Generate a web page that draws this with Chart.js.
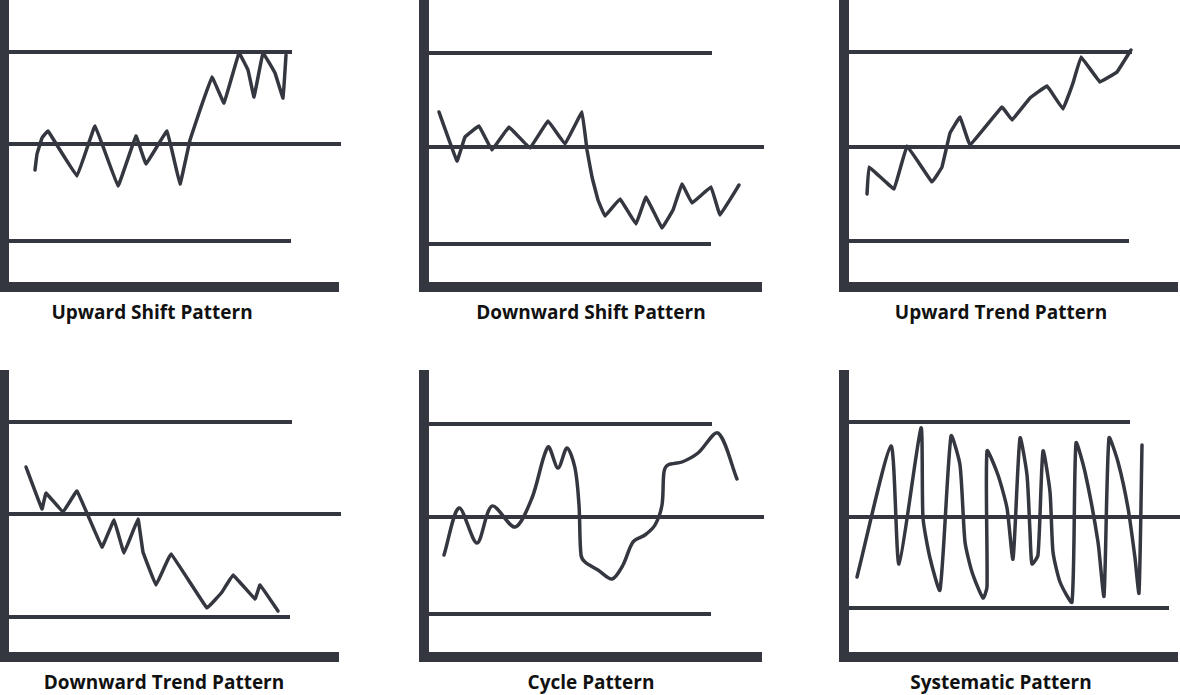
<!DOCTYPE html>
<html>
<head>
<meta charset="utf-8">
<script src="https://cdn.jsdelivr.net/npm/chart.js@4.4.1/dist/chart.umd.min.js"></script>
<style>
  body { margin: 0; background: #fff; }
  #page { position: relative; width: 1180px; height: 695px; overflow: hidden; }
  canvas { position: absolute; }
  .title {
    position: absolute; width: 300px; text-align: center;
    font: 700 19px "Open Sans", "Noto Sans", sans-serif; color: #111;
    line-height: 22px;
  }
</style>
</head>
<body>
<div id="page"></div>
<script>
// pattern names
var titles = ['Upward Shift Pattern', 'Downward Shift Pattern', 'Upward Trend Pattern',
              'Downward Trend Pattern', 'Cycle Pattern', 'Systematic Pattern'];

// control limits for each panel (value units) and how far each limit line runs along x
var uclValues = [230, 229, 230, 230, 228, 230];
var clValues  = [138, 135, 135, 138, 135, 135];
var lclValues = [41, 38, 41, 35, 38, 44];
var uclEnd = [283, 283, 283, 283, 283, 281];
var clEnd  = [332, 335, 331, 332, 335, 331];
var lclEnd = [282, 282, 280, 281, 282, 320];

var upShiftX = [26, 28, 33, 39, 68, 86, 109, 127, 137, 158, 171, 181, 191, 203, 215, 230, 239, 245, 254, 266, 274, 277];
var upShiftY = [112, 128, 144, 151, 106, 156, 96, 146, 118, 151, 98, 142, 172, 205, 179, 229, 212, 185, 229, 209, 184, 227];

var downShiftX = [10, 28, 36, 50, 63, 80, 101, 119, 136, 153, 158, 163, 169, 176, 191, 207, 217, 233, 244, 253, 263, 282, 291, 310];
var downShiftY = [170, 121, 145, 156, 132, 155, 134, 161, 138, 170, 132, 105, 82, 66, 83, 58, 85, 54, 72, 98, 79, 95, 67, 97];

var upTrendX = [18, 20, 45, 58, 83, 93, 101, 111, 121, 153, 163, 181, 198, 214, 224, 232, 251, 268, 282];
var upTrendY = [88, 115, 93, 136, 100, 115, 149, 165, 137, 175, 162, 184, 196, 173, 199, 225, 200, 210, 232];

var downTrendX = [17, 33, 37, 54, 68, 93, 105, 115, 129, 134, 147, 162, 198, 213, 224, 246, 251, 269];
var downTrendY = [185, 143, 159, 140, 161, 105, 132, 99, 133, 100, 67, 98, 44, 60, 77, 53, 67, 41];

var cycleX = [15, 30, 48, 63, 86, 103, 119, 129, 138, 146, 150, 152, 156, 169, 183, 194, 204, 216, 226, 233, 235, 239, 253, 269, 289, 308];
var cycleY = [97, 144, 109, 146, 125, 154, 205, 184, 204, 184, 147, 97, 90, 82, 73, 87, 110, 117, 127, 147, 180, 187, 190, 199, 219, 173];

var systematicX = [8, 42, 50, 72, 74, 81, 91, 102, 111, 116, 123, 134, 138, 138, 149, 158, 164, 171, 178, 181, 183, 189, 194, 201, 204, 211, 223, 227, 236, 249, 255, 260, 269, 279, 286, 290, 293];
var systematicY = [75, 206, 88, 224, 134, 94, 62, 216, 187, 110, 80, 54, 65, 201, 177, 144, 93, 214, 177, 120, 88, 97, 201, 160, 100, 70, 50, 209, 180, 110, 56, 214, 190, 144, 94, 59, 207];

var seriesX = [upShiftX, downShiftX, upTrendX, downTrendX, cycleX, systematicX];
var seriesY = [upShiftY, downShiftY, upTrendY, downTrendY, cycleY, systematicY];
var tensions = [0.05, 0.05, 0.05, 0.05, 0.3, 0.2];

var ink = '#34373f';

// layout of the six panels
var panelLeft = [-1, 419, 839, -1, 419, 839];
var panelTop = [0, 0, 0, 370, 370, 370];
var panelWidth = [342, 345, 341, 342, 345, 341];
var titleCx = [152, 591, 1001, 164, 591, 1001];
var titleCy = [312, 312, 312, 682, 682, 682];

// thick L-shaped axis
var frame = {
    id: 'frame',
    beforeDatasetsDraw: function (chart) {
        var a = chart.chartArea, ctx = chart.ctx;
        ctx.save();
        ctx.fillStyle = ink;
        ctx.fillRect(a.left - 10, a.top, 10, a.bottom - a.top + 10);
        ctx.fillRect(a.left - 10, a.bottom, a.right - a.left + 8, 10);
        ctx.restore();
    }
};

function limitLine(value, end) {
    return {
        data: [{x: 0, y: value}, {x: end, y: value}],
        borderColor: ink, borderWidth: 4, borderCapStyle: 'butt',
        pointRadius: 0, tension: 0
    };
}

var page = document.getElementById('page');

for (var i = 0; i < 6; i++) {
    var c = document.createElement('canvas');
    c.width = panelWidth[i];
    c.height = 292;
    c.style.left = panelLeft[i] + 'px';
    c.style.top = panelTop[i] + 'px';
    page.appendChild(c);

    var t = document.createElement('div');
    t.className = 'title';
    t.textContent = titles[i];
    t.style.left = (titleCx[i] - 150) + 'px';
    t.style.top = (titleCy[i] - 11) + 'px';
    page.appendChild(t);

    var pts = seriesX[i].map(function (x, k) { return {x: x, y: seriesY[i][k]}; });

    new Chart(c.getContext('2d'), {
        type: 'line',
        data: {
            datasets: [
                limitLine(uclValues[i], uclEnd[i]),
                limitLine(clValues[i], clEnd[i]),
                limitLine(lclValues[i], lclEnd[i]),
                {
                    data: pts,
                    borderColor: ink, borderWidth: 3.5,
                    borderCapStyle: 'round', borderJoinStyle: 'round',
                    pointRadius: 0, tension: tensions[i]
                }
            ]
        },
        options: {
            responsive: false,
            animation: false,
            events: [],
            layout: { padding: { left: 10, bottom: 10, top: 0, right: 0 } },
            plugins: { legend: { display: false }, tooltip: { enabled: false } },
            scales: {
                x: { type: 'linear', display: false, min: 0, max: panelWidth[i] - 10 },
                y: { display: false, min: 0, max: 282 }
            }
        },
        plugins: [frame]
    });
}
</script>
</body>
</html>
